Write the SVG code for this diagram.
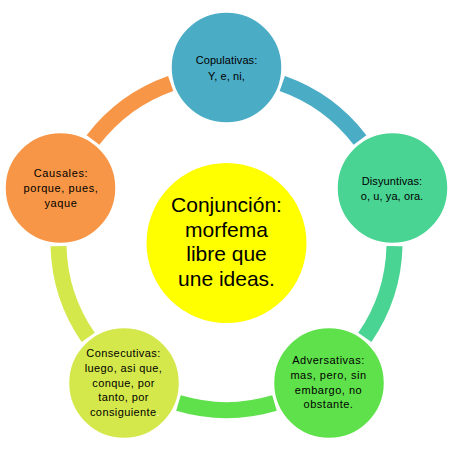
<svg xmlns="http://www.w3.org/2000/svg" width="453" height="453" viewBox="0 0 453 453">
<style>
.arc{fill:none;stroke-width:16;stroke-linecap:butt}
.node{stroke:#fff;stroke-width:2.5}
.t{font-family:"Liberation Sans",Arial,sans-serif;font-size:11px;fill:#000;text-anchor:middle}
.c{font-family:"Liberation Sans",Arial,sans-serif;font-size:21px;fill:#000;text-anchor:middle}
</style>
<rect width="453" height="453" fill="#fff"/>
<g id="connectors">
<path class="arc" stroke="#F79646" d="M93,140 A168,168 0 0 1 170.7,83.5"/>
<path class="arc" stroke="#4BACC6" d="M282.3,83.5 A168,168 0 0 1 360,140"/>
<path class="arc" stroke="#4AD494" d="M394.5,246.1 A168,168 0 0 1 364.8,337.4"/>
<path class="arc" stroke="#5FE14B" d="M274.5,403 A168,168 0 0 1 178.5,403"/>
<path class="arc" stroke="#D5E84B" d="M88.2,337.4 A168,168 0 0 1 58.5,246.1"/>
</g>
<g id="center">
<circle cx="226.5" cy="243" r="80" fill="#FFFF00"/>
<text class="c"><tspan x="226.5" y="212">Conjunción:</tspan><tspan x="226.5" y="236.5">morfema</tspan><tspan x="226.5" y="261">libre que</tspan><tspan x="226.5" y="285.5">une ideas.</tspan></text>
</g>
<g id="copulativas">
<circle class="node" cx="226.5" cy="67.5" r="56" fill="#4BACC6"/>
<text class="t" style="letter-spacing:0.1px"><tspan x="226.5" y="64">Copulativas:</tspan><tspan x="226.5" y="80">Y, e, ni,</tspan></text>
</g>
<g id="disyuntivas">
<circle class="node" cx="392.5" cy="188" r="56" fill="#4AD494"/>
<text class="t" style="letter-spacing:0.1px"><tspan x="392" y="185">Disyuntivas:</tspan><tspan x="392" y="200">o, u, ya, ora.</tspan></text>
</g>
<g id="adversativas">
<circle class="node" cx="329" cy="383" r="56" fill="#5FE14B"/>
<text class="t" style="letter-spacing:0.5px"><tspan x="328.5" y="364">Adversativas:</tspan><tspan x="328.5" y="379">mas, pero, sin</tspan><tspan x="328.5" y="394">embargo, no</tspan><tspan x="328.5" y="408">obstante.</tspan></text>
</g>
<g id="consecutivas">
<circle class="node" cx="124" cy="383" r="56" fill="#D5E84B"/>
<text class="t" style="letter-spacing:0.4px"><tspan x="123.5" y="357">Consecutivas:</tspan><tspan x="123.5" y="372">luego, asi que,</tspan><tspan x="123.5" y="387">conque, por</tspan><tspan x="123.5" y="401">tanto, por</tspan><tspan x="125" y="416">consiguiente<tspan fill="#fff">.</tspan></tspan></text>
</g>
<g id="causales">
<circle class="node" cx="60.5" cy="188" r="56" fill="#F79646"/>
<text class="t" style="letter-spacing:0.6px"><tspan x="61" y="177">Causales:</tspan><tspan x="61" y="192">porque, pues,</tspan><tspan x="61" y="207">yaque</tspan></text>
</g>
</svg>
